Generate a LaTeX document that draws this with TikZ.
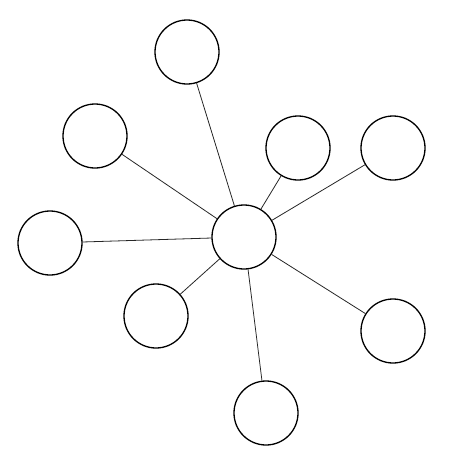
\documentclass[tikz,border=0pt]{standalone}
\begin{document}
\begin{tikzpicture}[x=1pt,y=-1pt,
  bubble/.style={circle,draw=black,line width=1.3pt,minimum size=64pt,inner sep=0pt},
  spoke/.style={draw=black!85,line width=0.8pt}]
\useasboundingbox (0,0) rectangle (474,474);
\node[bubble] (c) at (244,237) {};
\node[bubble] (t) at (187,52) {};
\node[bubble] (ul) at (95,136) {};
\node[bubble] (ur) at (298,148) {};
\node[bubble] (fr) at (393,148) {};
\node[bubble] (l) at (50,243) {};
\node[bubble] (ll) at (156,316) {};
\node[bubble] (rl) at (393,331) {};
\node[bubble] (b) at (266,413) {};
\foreach \n in {t,ul,ur,fr,l,ll,rl,b} \draw[spoke] (c) -- (\n);
\end{tikzpicture}
\end{document}
